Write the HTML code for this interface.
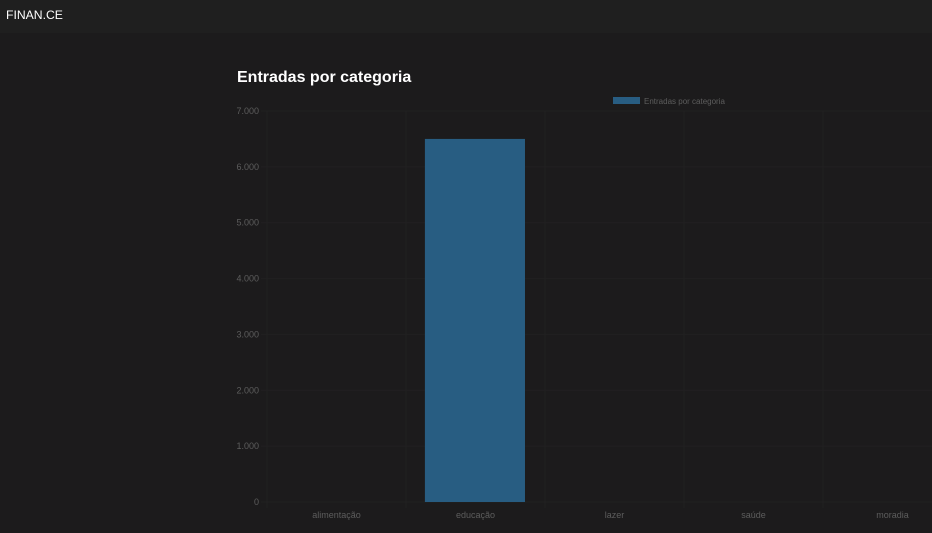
<!DOCTYPE html>
<html><head><meta charset="utf-8"><style>
body{margin:0;width:932px;height:533px;background:#1c1b1c;overflow:hidden;font-family:"Liberation Sans",sans-serif}
#hdr{position:absolute;left:0;top:0;width:932px;height:33px;background:#1f1f1f}
#logo{position:absolute;left:6px;top:8px;color:#fff;font-size:12.2px}
#title{position:absolute;left:237px;top:69px;color:#fff;font-size:16px;font-weight:bold;font-family:"Liberation Sans",sans-serif}
svg{position:absolute;left:0;top:0}
</style></head><body>
<div id="hdr"><div id="logo">FINAN.CE</div></div>
<div id="title">Entradas por categoria</div>
<svg id="chart" width="932" height="533"></svg>
<script>
const categories=["alimentação","educação","lazer","saúde","moradia"];
const values=[0,6500,0,0,0];
const yTicks=[0,1000,2000,3000,4000,5000,6000,7000];
const yTickLabels=["0","1.000","2.000","3.000","4.000","5.000","6.000","7.000"];
const seriesName="Entradas por categoria";
const NS="http://www.w3.org/2000/svg",svg=document.getElementById('chart');
const x0=267,cw=139,yBase=502,yTop=111,yMax=7000;
const y=v=>yBase-(v/yMax)*(yBase-yTop);
const xc=i=>x0+cw*i;
function mk(t,a,txt){const e=document.createElementNS(NS,t);for(const k in a)e.setAttribute(k,a[k]);if(txt!=null)e.textContent=txt;svg.appendChild(e);return e;}
yTicks.forEach((v,i)=>{
 const g=mk('line',{x1:x0-6,x2:x0+cw*5,y1:y(v),y2:y(v),stroke:'#212021','stroke-width':1});
 
 
 const t=mk('text',{x:x0-8,y:y(v)+3,'text-anchor':'end','font-size':9,fill:'#5d5d5d'},yTickLabels[i]);
 
 
});
for(let i=0;i<=5;i++){
 const g=mk('line',{x1:xc(i),x2:xc(i),y1:yTop,y2:yBase+6,stroke:'#212021','stroke-width':1});
 
 
}
categories.forEach((c,i)=>{
 const h=yBase-y(values[i]);
 if(h>0){const b=mk('rect',{x:xc(i)+cw*0.1+5,y:y(values[i]),width:cw*0.72,height:h,fill:'#285d82'});
 
 }
 const t=mk('text',{x:xc(i)+cw/2,y:518,'text-anchor':'middle','font-size':9,fill:'#5d5d5d'},c);
 
 
});
const lb=mk('rect',{x:613,y:97,width:27,height:7,fill:'#285d82'});


const lt=mk('text',{x:644,y:104,'font-size':8,fill:'#5d5d5d'},seriesName);


</script>
</body></html>
